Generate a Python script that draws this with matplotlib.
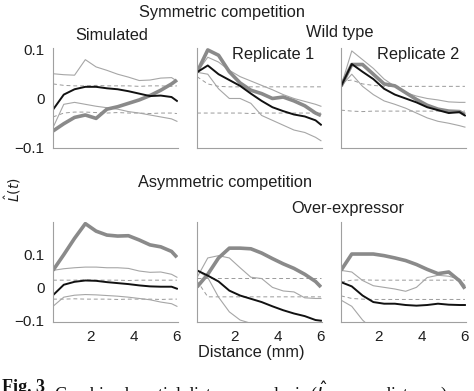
import matplotlib
matplotlib.use("Agg")
import matplotlib.pyplot as plt

# distance grid (mm)
dist = [0.25, 0.75, 1.25, 1.75, 2.25, 2.75, 3.25, 3.75, 4.25, 4.75, 5.25, 5.75, 6.0]

# symmetric competition, simulated
sim_obs = [-0.067, -0.052, -0.039, -0.034, -0.041, -0.022, -0.017, -0.010, -0.003, 0.006, 0.017, 0.030, 0.038]
sim_mean = [-0.023, 0.008, 0.019, 0.024, 0.024, 0.021, 0.019, 0.015, 0.010, 0.005, 0.006, 0.003, -0.005]
sim_hi = [0.051, 0.049, 0.048, 0.080, 0.065, 0.058, 0.050, 0.044, 0.037, 0.038, 0.042, 0.043, 0.036]
sim_lo = [-0.060, -0.012, -0.008, -0.012, -0.016, -0.019, -0.022, -0.027, -0.030, -0.034, -0.038, -0.042, -0.047]
sim_dhi = [0.030, 0.027, 0.026, 0.026, 0.027, 0.026, 0.026, 0.026, 0.025, 0.026, 0.026, 0.025, 0.026]
sim_dlo = [-0.038, -0.030, -0.028, -0.028, -0.029, -0.030, -0.029, -0.030, -0.030, -0.031, -0.030, -0.030, -0.031]

# wild type, replicate 1
wt1_obs = [0.054, 0.100, 0.089, 0.055, 0.032, 0.017, 0.010, 0.000, 0.003, -0.005, -0.015, -0.030, -0.035]
wt1_mean = [0.054, 0.068, 0.050, 0.038, 0.026, 0.010, -0.005, -0.018, -0.026, -0.033, -0.037, -0.045, -0.054]
wt1_hi = [0.054, 0.085, 0.075, 0.058, 0.045, 0.036, 0.027, 0.018, 0.008, 0.000, -0.006, -0.012, -0.016]
wt1_lo = [0.054, 0.050, 0.020, 0.000, 0.000, -0.010, -0.035, -0.045, -0.055, -0.065, -0.070, -0.080, -0.087]
wt1_dhi = [0.045, 0.030, 0.025, 0.024, 0.024, 0.024, 0.024, 0.024, 0.024, 0.024, 0.024, 0.024, 0.024]
wt1_dlo = [-0.030, -0.030, -0.030, -0.030, -0.030, -0.031, -0.030, -0.030, -0.030, -0.030, -0.030, -0.030, -0.030]

# wild type, replicate 2
wt2_obs = [0.025, 0.070, 0.070, 0.050, 0.030, 0.026, 0.012, -0.002, -0.014, -0.022, -0.026, -0.027, -0.033]
wt2_mean = [0.025, 0.071, 0.055, 0.040, 0.020, 0.008, 0.000, -0.008, -0.018, -0.024, -0.030, -0.028, -0.035]
wt2_hi = [0.025, 0.098, 0.080, 0.062, 0.040, 0.025, 0.012, 0.005, 0.000, -0.003, -0.007, -0.008, -0.008]
wt2_lo = [0.025, 0.050, 0.025, 0.008, -0.005, -0.012, -0.020, -0.030, -0.040, -0.047, -0.051, -0.056, -0.059]
wt2_dhi = [0.035, 0.038, 0.030, 0.027, 0.025, 0.025, 0.025, 0.025, 0.025, 0.025, 0.025, 0.025, 0.025]
wt2_dlo = [-0.024, -0.026, -0.027, -0.026, -0.026, -0.026, -0.026, -0.026, -0.026, -0.026, -0.026, -0.026, -0.026]

# asymmetric competition, simulated
asy_obs = [0.052, 0.100, 0.150, 0.195, 0.172, 0.160, 0.157, 0.158, 0.145, 0.130, 0.124, 0.110, 0.092]
asy_mean = [-0.024, 0.008, 0.017, 0.021, 0.020, 0.016, 0.013, 0.010, 0.006, 0.003, 0.002, 0.002, -0.004]
asy_hi = [0.052, 0.057, 0.060, 0.062, 0.062, 0.060, 0.060, 0.058, 0.050, 0.046, 0.047, 0.040, 0.031]
asy_lo = [-0.058, -0.030, -0.024, -0.022, -0.023, -0.025, -0.027, -0.030, -0.034, -0.038, -0.045, -0.050, -0.058]
asy_dhi = [0.022, 0.022, 0.022, 0.023, 0.022, 0.022, 0.022, 0.021, 0.022, 0.022, 0.022, 0.022, 0.022]
asy_dlo = [-0.036, -0.036, -0.035, -0.036, -0.036, -0.036, -0.037, -0.036, -0.036, -0.036, -0.037, -0.036, -0.036]

# over-expressor, replicate 1
ox1_obs = [0.001, 0.040, 0.090, 0.120, 0.120, 0.118, 0.105, 0.088, 0.072, 0.058, 0.040, 0.018, 0.001]
ox1_mean = [0.052, 0.036, 0.018, -0.010, -0.025, -0.035, -0.045, -0.058, -0.070, -0.080, -0.088, -0.100, -0.102]
ox1_hi = [0.030, 0.090, 0.097, 0.090, 0.060, 0.031, 0.027, 0.000, -0.011, -0.014, -0.032, -0.034, -0.034]
ox1_lo = [0.052, 0.030, -0.030, -0.075, -0.100, -0.110, -0.120, -0.125, -0.130, -0.135, -0.140, -0.145, -0.150]
ox1_dhi = [0.028, 0.028, 0.028, 0.028, 0.028, 0.028, 0.028, 0.028, 0.028, 0.028, 0.028, 0.028, 0.028]
ox1_dlo = [0.020, -0.029, -0.029, -0.029, -0.029, -0.029, -0.029, -0.029, -0.029, -0.029, -0.029, -0.029, -0.029]

# over-expressor, replicate 2
ox2_obs = [0.052, 0.102, 0.102, 0.102, 0.097, 0.090, 0.082, 0.070, 0.055, 0.042, 0.047, 0.020, -0.004]
ox2_mean = [0.016, 0.003, -0.025, -0.045, -0.050, -0.050, -0.054, -0.056, -0.054, -0.050, -0.053, -0.054, -0.054]
ox2_hi = [0.052, 0.047, 0.021, 0.005, 0.000, -0.005, -0.012, 0.000, 0.030, 0.037, 0.034, 0.025, 0.006]
ox2_lo = [-0.039, -0.058, -0.100, -0.130, -0.140, -0.150, -0.150, -0.150, -0.150, -0.150, -0.150, -0.150, -0.150]
ox2_dhi = [0.016, 0.022, 0.023, 0.022, 0.022, 0.022, 0.022, 0.022, 0.022, 0.022, 0.022, 0.022, 0.022]
ox2_dlo = [-0.026, -0.034, -0.036, -0.037, -0.037, -0.037, -0.037, -0.037, -0.037, -0.037, -0.037, -0.037, -0.037]

yticks = [-0.1, 0, 0.1]
ytick_labels = ["\u22120.1", "0", "0.1"]
xticks = [2, 4, 6]

panels = [
    (sim_obs, sim_mean, sim_hi, sim_lo, sim_dhi, sim_dlo),
    (wt1_obs, wt1_mean, wt1_hi, wt1_lo, wt1_dhi, wt1_dlo),
    (wt2_obs, wt2_mean, wt2_hi, wt2_lo, wt2_dhi, wt2_dlo),
    (asy_obs, asy_mean, asy_hi, asy_lo, asy_dhi, asy_dlo),
    (ox1_obs, ox1_mean, ox1_hi, ox1_lo, ox1_dhi, ox1_dlo),
    (ox2_obs, ox2_mean, ox2_hi, ox2_lo, ox2_dhi, ox2_dlo),
]

W, H = 474, 391
TXT = "#1e1e1e"
plt.rcParams["font.family"] = ["Liberation Sans", "DejaVu Sans"]

fig = plt.figure(figsize=(W / 100, H / 100), dpi=100)

lefts = [53, 197, 341]
tops = [48, 222]
aw, ah = 125, 100

for i, (obs, mean, hi, lo, dhi, dlo) in enumerate(panels):
    row, col = divmod(i, 3)
    ax = fig.add_axes([lefts[col] / W, 1 - (tops[row] + ah) / H, aw / W, ah / H])
    ax.plot(dist, dhi, color="#9a9a9a", lw=0.7, ls=(0, (4, 3)))
    ax.plot(dist, dlo, color="#9a9a9a", lw=0.7, ls=(0, (4, 3)))
    ax.plot(dist, hi, color="#a6a6a6", lw=0.8)
    ax.plot(dist, lo, color="#a6a6a6", lw=0.8)
    ax.plot(dist, obs, color="#8a8a8a", lw=2.6, solid_capstyle="butt")
    ax.plot(dist, mean, color="#111111", lw=1.4)
    ax.set_xlim(0.25, 6.05)
    if row == 0:
        ax.set_ylim(-0.102, 0.104)
    else:
        ax.set_ylim(-0.106, 0.2)
    for s in ["top", "right"]:
        ax.spines[s].set_visible(False)
    for s in ["left", "bottom"]:
        ax.spines[s].set_color("#a0a0a0")
        ax.spines[s].set_linewidth(0.8)
    ax.set_yticks(yticks)
    ax.set_xticks(xticks)
    ax.tick_params(length=0, labelsize=11, colors=TXT, pad=6)
    if col == 0:
        ax.set_yticklabels(ytick_labels)
    else:
        ax.set_yticklabels([])
    if row == 1:
        ax.set_xticklabels([str(t) for t in xticks])
    else:
        ax.set_xticklabels([])

def label(x, y, s, size=11.8):
    fig.text(x / W, 1 - y / H, s, ha="center", va="center", fontsize=size, color=TXT)

label(222, 13, "Symmetric competition")
label(112, 35, "Simulated")
label(340, 33, "Wild type")
label(273, 55, "Replicate 1")
label(418, 55, "Replicate 2")
label(225, 183, "Asymmetric competition")
label(348, 209, "Over-expressor")
label(251, 353, "Distance (mm)")
fig.text(13 / W, 1 - 190 / H, r"$\hat{L}(t)$", rotation=90, ha="center", va="center",
         fontsize=10, color=TXT)

fig.text(2 / W, 1 - 379 / H, "Fig. 3", ha="left", va="top", fontsize=13,
         fontweight="bold", family="Liberation Serif", color="#111111")
fig.text(54 / W, 1 - 379 / H, "Combined spatial distance analysis ($\\hat{L}$ versus distance)",
         ha="left", va="top", fontsize=13, family="Liberation Serif", color="#111111")

fig.savefig("out.png", dpi=100)
